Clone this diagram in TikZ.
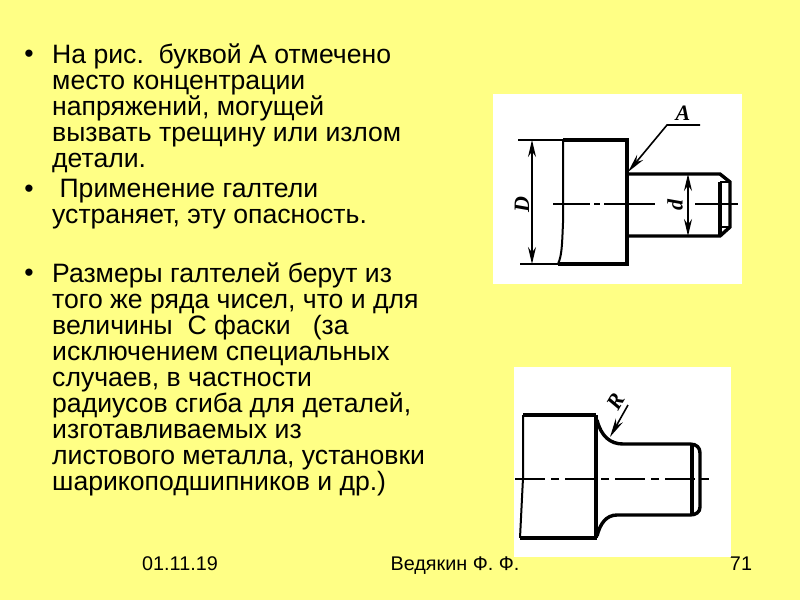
\documentclass[tikz,border=0pt]{standalone}
\usepackage{fontspec}
\setmainfont{Liberation Sans}
\newfontfamily\serifit[Scale=1]{Liberation Serif}
\usetikzlibrary{arrows.meta}
\definecolor{slidebg}{HTML}{FFFF85}
\tikzset{
  bodytext/.style={anchor=north west,inner sep=0pt,align=left,font=\fontsize{26.6}{25.9}\selectfont},
  bulletmark/.style={anchor=center,inner sep=0pt,font=\fontsize{26.6}{25.9}\selectfont},
  foottext/.style={anchor=base,inner sep=0pt,font=\fontsize{19.8}{20}\selectfont},
  letter/.style={inner sep=0pt,font=\serifit\itshape\bfseries\fontsize{22}{22}\selectfont},
  thick line/.style={line width=3.4pt,line join=miter},
  thin line/.style={line width=1.6pt},
  dimline/.style={line width=1.4pt,{Stealth[length=17pt,width=8pt]}-{Stealth[length=17pt,width=8pt]}},
  axis/.style={line width=1.2pt,dash pattern=on 30pt off 6pt on 8pt off 6pt}
}
\begin{document}
\begin{tikzpicture}[x=1pt,y=-1pt]

\fill[slidebg] (0,0) rectangle (800,600);
\useasboundingbox (0,0) rectangle (800,600);

%Text of the slide
\node[bulletmark] (b1) at (29,56) {•};
\node[bodytext] (par1) at (52,44) {На рис.\ \ буквой А отмечено\\место концентрации\\напряжений, могущей\\вызвать трещину или излом\\детали.};
\node[bulletmark] (b2) at (29,191) {•};
\node[bodytext] (par2) at (52,179) {\ Применение галтели\\устраняет, эту опасность.};
\node[bulletmark] (b3) at (29,275) {•};
\node[bodytext] (par3) at (52,263) {Размеры галтелей берут из\\того же ряда чисел, что и для\\величины\ \ С фаски\ \ \ (за\\исключением специальных\\случаев, в частности\\радиусов сгиба для деталей,\\изготавливаемых из\\листового металла, установки\\шарикоподшипников и др.)};

%Footer
\node[foottext] (date) at (180,570) {01.11.19};
\node[foottext] (author) at (455,570) {Ведякин Ф. Ф.};
\node[foottext] (pagenum) at (741,570) {71};

%Upper drawing
\fill[white] (493,94) rectangle (742,284);
\draw[thin line] (518,140) -- (563,140);
\draw[thin line] (520,264) -- (558,264);
\draw[line width=2pt] (563,140) -- (563,223) .. controls (562,245) and (562,255) .. (558,264);
\draw[thick line] (563,140) -- (627,140) -- (627,264) -- (558,264);
\draw[thick line] (627,174) -- (720,174) -- (730,182) -- (730,227) -- (720,236) -- (627,236);
\draw[thick line] (720,182) -- (720,236);
\draw[thin line] (720,182) -- (730,182);
\draw[thin line] (720,227) -- (730,227);
\draw[line width=1.2pt] (553,204) -- (590,204);
\draw[line width=1.2pt] (594,204) -- (600,204);
\draw[line width=1.2pt] (604,204) -- (655,204);
\draw[line width=1.2pt] (695,204) -- (738,204);
\draw[dimline] (532,140) -- (532,264);
\draw[dimline] (688,174) -- (688,236);
\draw[thin line,-{Stealth[length=19pt,width=8pt]}] (700,125) -- (667,125) -- (628,172);
\node[letter,rotate=90] (labelD) at (522,205) {D};
\node[letter,rotate=90] (labeld) at (675,205) {d};
\node[letter] (labelA) at (683,113) {A};

%Lower drawing
\fill[white] (514,367) rectangle (731,557);
\draw[thick line] (596,415) -- (523,415);
\draw[line width=2pt] (523,415) -- (523,478) -- (520,538);
\draw[thick line] (520,538) -- (597,538);
\draw[thick line] (596,415) -- (596,538);
\draw[thick line] (597,420) .. controls (601,436) and (610,444) .. (623,444) -- (690,444) .. controls (697,444) and (700,448) .. (700,453) -- (700,507) .. controls (700,512) and (696,515) .. (690,515) -- (617,515) .. controls (606,515) and (600,524) .. (597,536);
\draw[line width=4pt] (692,444) -- (692,515);
\draw[axis,line width=1.8pt] (515,479) -- (710,479);
\draw[thin line,-{Stealth[length=19pt,width=8pt]}] (628,405) -- (610,437);
\node[letter,rotate=60] (labelR) at (616,402) {R};

\end{tikzpicture}
\end{document}
